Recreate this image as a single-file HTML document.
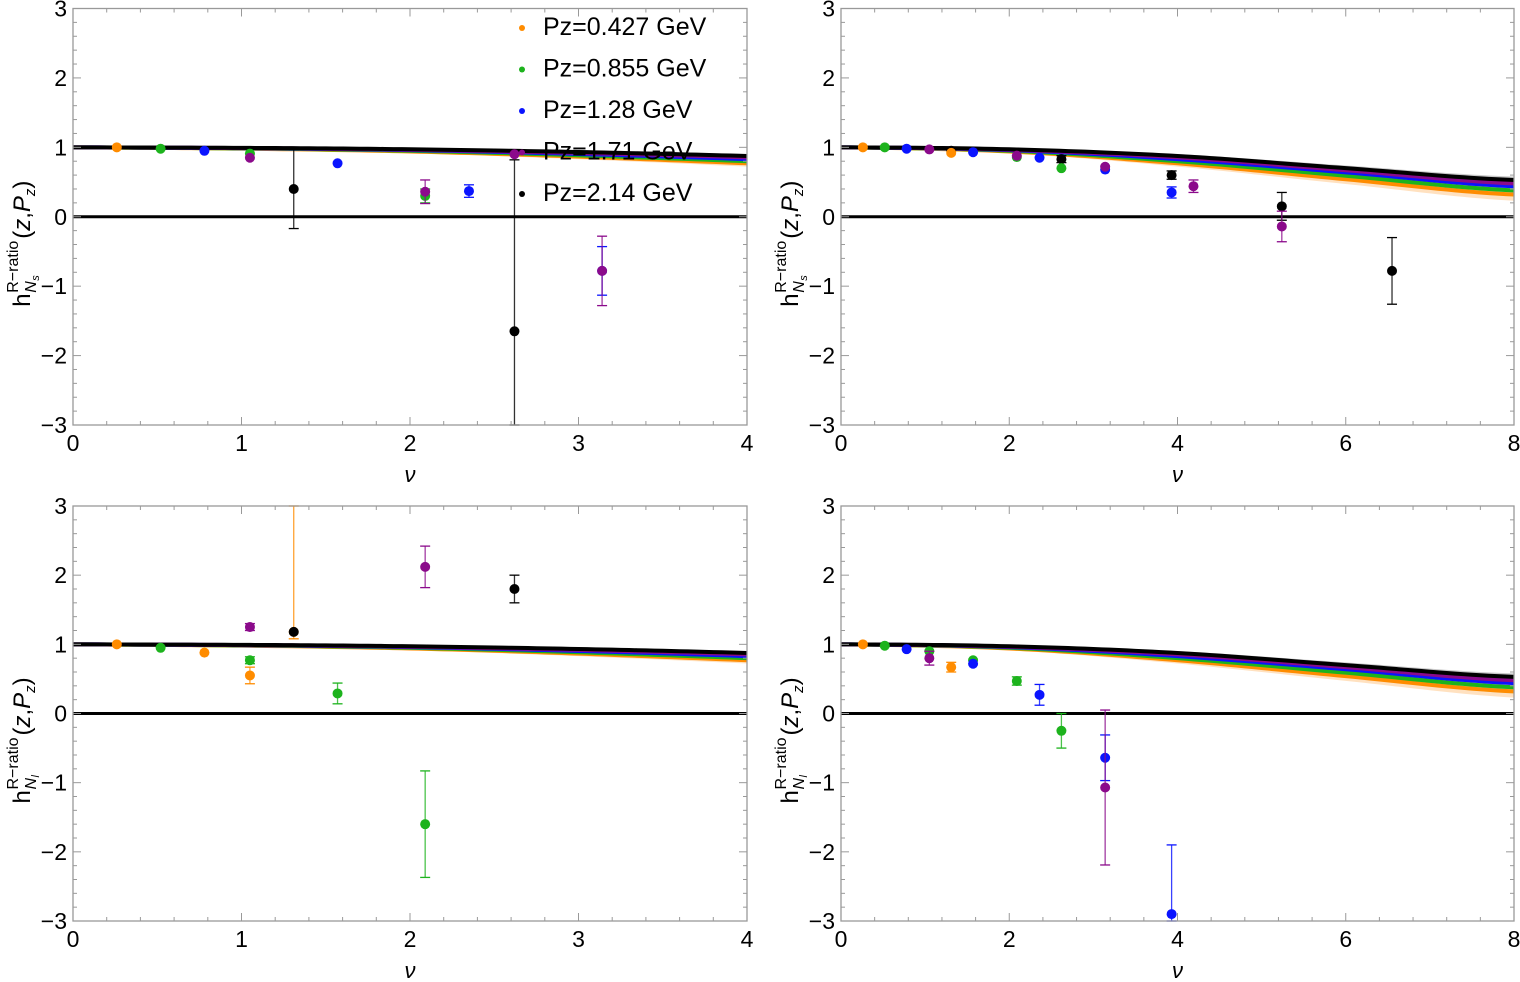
<!DOCTYPE html><html><head><meta charset="utf-8"><style>body{margin:0;background:#fff}svg{display:block}</style></head><body>
<svg id="s" width="1520" height="982" xmlns="http://www.w3.org/2000/svg" font-family="Liberation Sans, sans-serif"></svg>
<script>
const S=document.getElementById('s');let h='';
const C={o:'#ff8c00',g:'#1db31d',b:'#0a14ff',p:'#8b0a8b',k:'#000'};
const curves=[['o',[1,.94,.77,.54,.32],'#ffd9b0'],['g',[1,.95,.8,.59,.38],'#bfe5b0'],['b',[1,.96,.83,.64,.44],'#b8b8ff'],['p',[1,.965,.855,.67,.48],'#d8b0d8'],['k',[1,.972,.875,.7,.53],'#bbb']];
function f(a,v){const t=v/2,i=Math.min(3,Math.floor(t)),u=t-i;const p0=a[Math.max(0,i-1)],p1=a[i],p2=a[i+1],p3=a[Math.min(4,i+2)];return p1+0.5*u*(p2-p0+u*(2*p0-5*p1+4*p2-p3+u*(3*(p1-p2)+p3-p0)));}
function panel(x0,x1,y3,ym3,xmax,sub,pts,legend){
 const X=v=>x0+(x1-x0)*v/xmax,Y=v=>y3+(ym3-y3)*(3-v)/6;
 curves.forEach(([c,a,lc])=>{let up='',dn='';for(let i=0;i<=80;i++){const v=xmax*i/80,y=f(a,v),w=0.03*v/8*1.5+0.005;up+=(i?'L':'M')+X(v)+','+Y(y+w);dn='L'+X(v)+','+Y(y-w-0.04*v/8)+dn;}h+=`<path d="${up}${dn}Z" fill="${lc}" opacity="0.8"/>`;});
 curves.forEach(([c,a])=>{let d='';for(let i=0;i<=80;i++){const v=xmax*i/80;d+=(i?'L':'M')+X(v)+','+Y(f(a,v));}h+=`<path d="${d}" fill="none" stroke="${C[c]}" stroke-width="4"/>`;});
 h+=`<line x1="${x0}" x2="${x1}" y1="${Y(0)}" y2="${Y(0)}" stroke="#000" stroke-width="3"/>`;
 pts.forEach(([c,v,y,e,e2])=>{if(e){const t=y+e,b=y-(e2===undefined?e:e2);const yt=Y(Math.min(t,3)),yb=Y(Math.max(b,-3));h+=`<line x1="${X(v)}" x2="${X(v)}" y1="${yt}" y2="${yb}" stroke="${C[c]}" stroke-width="1.3" opacity=".8"/><line x1="${X(v)-5}" x2="${X(v)+5}" y1="${yt}" y2="${yt}" stroke="${C[c]}" stroke-width="1.3"/><line x1="${X(v)-5}" x2="${X(v)+5}" y1="${yb}" y2="${yb}" stroke="${C[c]}" stroke-width="1.3"/>`;}
  h+=`<circle cx="${X(v)}" cy="${Y(y)}" r="5" fill="${C[c]}"/>`;});
 h+=`<rect x="${x0}" y="${y3}" width="${x1-x0}" height="${ym3-y3}" fill="none" stroke="#999" stroke-width="1.3"/>`;
 const step=xmax/4, minor=step/5;
 for(let v=0;v<=xmax+1e-9;v+=minor){const mj=Math.abs(v/step-Math.round(v/step))<1e-6,l=mj?8:4;h+=`<line x1="${X(v)}" x2="${X(v)}" y1="${ym3}" y2="${ym3-l}" stroke="#999"/><line x1="${X(v)}" x2="${X(v)}" y1="${y3}" y2="${y3+l}" stroke="#999"/>`;if(mj)h+=`<text x="${X(v)}" y="${ym3+26}" font-size="23" text-anchor="middle">${Math.round(v)}</text>`;}
 for(let v=-3;v<=3.001;v+=0.2){const mj=Math.abs(v-Math.round(v))<1e-6,l=mj?8:4;h+=`<line x1="${x0}" x2="${x0+l}" y1="${Y(v)}" y2="${Y(v)}" stroke="#999"/><line x1="${x1}" x2="${x1-l}" y1="${Y(v)}" y2="${Y(v)}" stroke="#999"/>`;if(mj){const r=Math.round(v);h+=`<text x="${x0-6}" y="${Y(v)+8}" font-size="23" text-anchor="end">${r<0?'−'+(-r):r}</text>`;}}
 h+=`<text x="${(x0+x1)/2}" y="${ym3+57}" font-size="22" font-style="italic" text-anchor="middle">ν</text>`;
 const cy=(y3+ym3)/2;
 h+=`<g transform="translate(${x0-43},${cy+90}) rotate(-90)"><text x="0" y="0" font-size="24">h</text><text x="14" y="-12" font-size="16">R−ratio</text><text x="14" y="6" font-size="16" font-style="italic">N</text><text x="26" y="9" font-size="11" font-style="italic">${sub}</text><text x="68" y="0" font-size="24">(<tspan font-style="italic">z</tspan>,<tspan font-style="italic">P</tspan><tspan font-size="15" dy="5" font-style="italic">z</tspan><tspan dy="-5">)</tspan></text></g>`;
 if(legend){const L=[['o','Pz=0.427 GeV'],['g','Pz=0.855 GeV'],['b','Pz=1.28 GeV'],['p','Pz=1.71 GeV'],['k','Pz=2.14 GeV']];L.forEach(([c,t],i)=>{const y=25+i*41.5;h+=`<circle cx="522" cy="${y+3}" r="3" fill="${C[c]}"/><text x="543" y="${y+10}" font-size="25">${t}</text>`;});}
}
panel(73,747,8.5,425,4,'s',[['o',.26,1],['g',.52,.98],['b',.78,.95],['g',1.05,.91],['p',1.05,.85],['k',1.31,.4,.57],['b',1.57,.77],['g',2.09,.3,.1],['p',2.09,.36,.17],['b',2.35,.37,.09],['k',2.62,-1.65,2.47,1.5],['p',2.62,.9],['b',3.14,-.78,.35],['p',3.14,-.78,.5]],true);
panel(841,1514,8.5,425,8,'s',[['o',.26,1],['g',.52,1],['b',.78,.98],['p',1.05,.97],['k',1.31,.95],['o',1.31,.92],['b',1.57,.93],['g',2.09,.86],['p',2.09,.88],['b',2.36,.85],['k',2.62,.83,.05],['g',2.62,.7],['b',3.14,.68],['p',3.14,.72],['k',3.93,.6,.06],['b',3.93,.35,.08],['p',4.19,.44,.09],['k',5.24,.15,.2],['p',5.24,-.14,.22],['k',6.55,-.78,.48]],false);
panel(73,747,506,921,4,'l',[['o',.26,1],['g',.52,.95],['o',.78,.88],['p',1.05,1.25,.05],['g',1.05,.77,.05],['o',1.05,.55,.12],['o',1.31,1.18,2,.1],['k',1.31,1.18],['g',1.57,.29,.15],['p',2.09,2.12,.3],['g',2.09,-1.6,.77],['k',2.62,1.8,.2]],false);
panel(841,1514,506,921,8,'l',[['o',.26,1],['g',.52,.98],['b',.78,.93],['g',1.05,.9],['p',1.05,.8,.1],['o',1.31,.67,.07],['g',1.57,.77],['b',1.57,.72],['g',2.09,.47,.06],['b',2.36,.27,.15],['g',2.62,-.25,.25],['b',3.14,-.64,.33],['p',3.14,-1.07,1.12],['b',3.93,-2.9,1.0]],false);
S.innerHTML=h;
</script></body></html>
